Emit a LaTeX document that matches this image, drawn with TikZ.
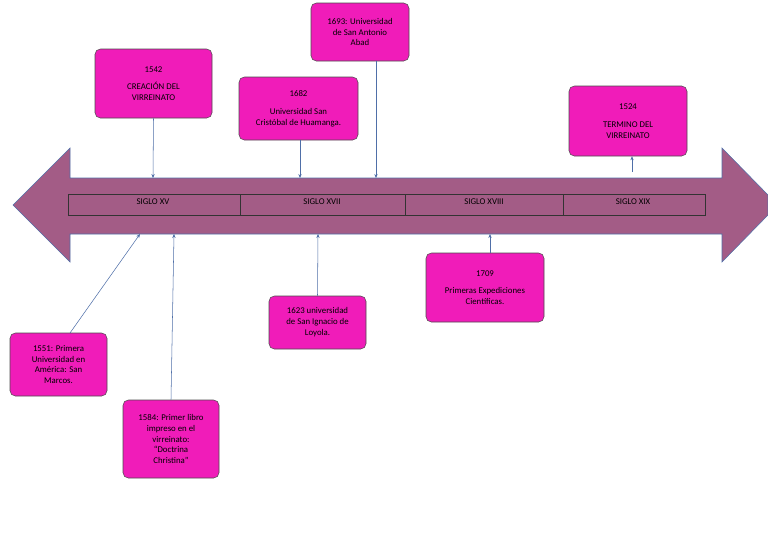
\documentclass[tikz,border=0pt]{standalone}
\usepackage{fontspec}
\setmainfont{Carlito}
\usetikzlibrary{arrows.meta}
\definecolor{mauve}{HTML}{A35C86}
\definecolor{pinkbox}{HTML}{F01CB9}
\definecolor{edge}{HTML}{4F6FA8}
\begin{document}
\begin{tikzpicture}[x=0.75pt, y=-0.75pt,
    event/.style={rectangle, rounded corners=4pt, draw=black!70, fill=pinkbox, align=center, inner sep=2pt, font=\fontsize{6.6}{8.2}\selectfont},
    cell/.style={font=\fontsize{6.6}{8}\selectfont, anchor=north},
    arrow/.style={-{Stealth[length=3pt,width=2.5pt]}, draw=edge, thin}
]
    \useasboundingbox (0,0) rectangle (768,544);
    % double arrow
    \draw[draw=edge, fill=mauve] (13,205) -- (70,148) -- (70,178) -- (722,178) -- (722,148) -- (768,195)
        -- (768,215) -- (722,262) -- (722,234) -- (70,234) -- (70,262) -- cycle;
    % century row
    \draw[black!80] (68,194) rectangle (705,215);
    \foreach \x in {240,405,563} \draw[black!80] (\x,194) -- (\x,215);
    \node[cell] (s15) at (153,194) {SIGLO XV};
    \node[cell] (s17) at (322,194) {SIGLO XVII};
    \node[cell] (s18) at (484,194) {SIGLO XVIII};
    \node[cell] (s19) at (633,194) {SIGLO XIX};

    % events above
    \node[event, minimum width=117pt*0.75, minimum height=69pt*0.75] (e1542) at (153.5,83.5) {1542\\[5pt]CREACIÓN DEL\\VIRREINATO};
    \node[event, minimum width=98pt*0.75, minimum height=58pt*0.75] (e1693) at (360,32) {1693: Universidad\\de San Antonio\\Abad};
    \node[event, minimum width=119pt*0.75, minimum height=63pt*0.75] (e1682) at (298.5,108.5) {1682\\[5pt]Universidad San\\Cristóbal de Huamanga.};
    \node[event, minimum width=118pt*0.75, minimum height=70pt*0.75] (e1524) at (628,121) {1524\\[5pt]TERMINO DEL\\VIRREINATO};
    % events below
    \node[event, minimum width=97pt*0.75, minimum height=63pt*0.75] (e1551) at (58.5,364.5) {1551: Primera\\Universidad en\\América: San\\Marcos.};
    \node[event, minimum width=96pt*0.75, minimum height=78pt*0.75] (e1584) at (171,439) {1584: Primer libro\\impreso en el\\virreinato:\\“Doctrina\\Christina”};
    \node[event, minimum width=97pt*0.75, minimum height=53pt*0.75] (e1623) at (317.5,322.5) {1623 universidad\\de San Ignacio de\\Loyola.};
    \node[event, minimum width=118pt*0.75, minimum height=69pt*0.75] (e1709) at (485,287.5) {1709\\[5pt]Primeras Expediciones\\Científicas.};

    \coordinate (t1542) at (153,178);
    \coordinate (t1693) at (376,178);
    \coordinate (t1682) at (300,178);
    \coordinate (f1524) at (632,172);
    \coordinate (t1551) at (140,234);
    \coordinate (t1584) at (174,234);
    \coordinate (t1623) at (318,234);
    \coordinate (t1709) at (490,234);

    \draw[arrow] (e1542.south) -- (t1542);
    \draw[arrow] (e1693.south -| t1693) -- (t1693);
    \draw[arrow] (e1682.south -| t1682) -- (t1682);
    \draw[arrow] (f1524) -- (e1524.south -| f1524);
    \draw[arrow] (70,333) -- (t1551);
    \draw[arrow] (e1584.north) -- (t1584);
    \draw[arrow] (e1623.north) -- (t1623);
    \draw[arrow] (e1709.north -| t1709) -- (t1709);
\end{tikzpicture}
\end{document}
